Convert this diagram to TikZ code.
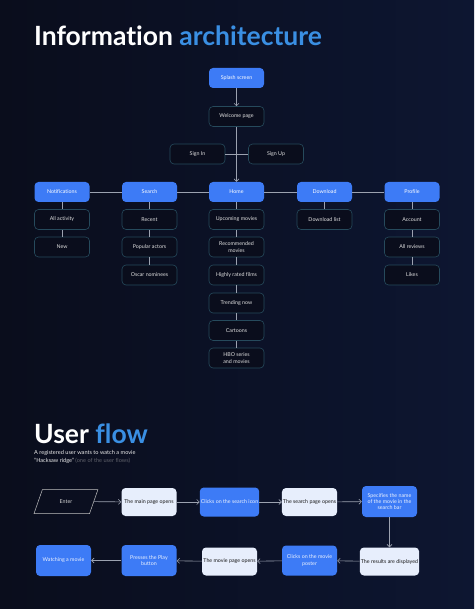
\documentclass[tikz,border=0pt]{standalone}
\usepackage{fontspec}
\setmainfont{Lato}[Ligatures={NoCommon}]
\usetikzlibrary{arrows.meta,positioning,shapes.geometric}
\definecolor{bgdark}{HTML}{0A0D1C}
\definecolor{bgblue}{HTML}{0D1631}
\definecolor{boxblue}{HTML}{3D7BF6}
\definecolor{titleblue}{HTML}{3A8FE3}
\definecolor{boxline}{HTML}{264A5C}
\definecolor{boxlight}{HTML}{E7EEFC}
\definecolor{wire}{HTML}{9CA2B0}
\tikzset{
  % blue page box (main sections)
  pagebox/.style={fill=boxblue, rounded corners=4pt, minimum width=55pt,
                  minimum height=20pt, font=\fontsize{5.3}{6.3}\selectfont,
                  text=white, align=center, inner sep=1pt},
  % outlined sub page box
  subbox/.style={draw=boxline, line width=0.6pt, fill=bgdark, rounded corners=4pt,
                 minimum width=55pt, minimum height=20pt,
                 font=\fontsize{5.3}{6.3}\selectfont, text=white!88!black,
                 align=center, inner sep=1pt},
  % user flow steps
  stepblue/.style={pagebox, minimum height=29pt, text=white!90!boxblue},
  steplight/.style={pagebox, fill=boxlight, text=black!90, minimum height=28pt},
  stepin/.style={draw=white!75!black, line width=0.5pt, trapezium,
                 trapezium left angle=72, trapezium right angle=108,
                 trapezium stretches=true, minimum width=64pt, minimum height=24pt,
                 font=\fontsize{5.3}{6.3}\selectfont, text=white!85!black},
  % connectors
  link/.style={draw=wire, line width=0.6pt},
  arr/.style={link, -{Straight Barb[length=2.5pt,width=5pt]}},
  headline/.style={font=\fontsize{26.5}{30}\selectfont\bfseries, text=white, anchor=base west, inner sep=0pt},
}

\begin{document}
\begin{tikzpicture}[x=1pt,y=-1pt]

\useasboundingbox (0,0) rectangle (474,609);
\shade[left color=bgdark, right color=bgblue] (0,0) rectangle (474,609);

\node[headline] (iatitle) at (34,46) {Information \textcolor{titleblue}{architecture}};

% =================== INFORMATION ARCHITECTURE ===================
\node[pagebox] (splash) at (236.5,78) {Splash screen};
\node[subbox] (welcome) at (236.5,116.5) {Welcome page};
\node[subbox] (signin) at (197.5,154) {Sign In};
\node[subbox] (signup) at (276,154) {Sign Up};

\node[pagebox] (notif) at (62,192) {Notifications};
\node[pagebox] (search) at (149.5,192) {Search};
\node[pagebox] (home) at (236.5,192) {Home};
\node[pagebox] (download) at (324.5,192) {Download};
\node[pagebox] (profile) at (412,192) {Profile};

\node[subbox] (activity) at (62,219.5) {All activity};
\node[subbox] (new) at (62,247) {New};

\node[subbox] (recent) at (149.5,219.5) {Recent};
\node[subbox] (actors) at (149.5,247) {Popular actors};
\node[subbox] (oscar) at (149.5,275) {Oscar nominees};

\node[subbox] (upcoming) at (236.5,219.5) {Upcoming movies};
\node[subbox] (recommended) at (236.5,247) {Recommended\\movies};
\node[subbox] (rated) at (236.5,275) {Highly rated films};
\node[subbox] (trending) at (236.5,303) {Trending now};
\node[subbox] (cartoons) at (236.5,330.5) {Cartoons};
\node[subbox] (hbo) at (236.5,358) {HBO series\\and movies};

\node[subbox] (dlist) at (324.5,219.5) {Download list};

\node[subbox] (account) at (412,219.5) {Account};
\node[subbox] (reviews) at (412,247) {All reviews};
\node[subbox] (likes) at (412,275) {Likes};

\draw[arr] (splash) -- (welcome);
\draw[arr] (welcome) -- (home);
\draw[link] (signin) -- (signup);
\draw[link] (notif) -- (search) -- (home) -- (download) -- (profile);
\draw[link] (notif) -- (activity) -- (new);
\draw[link] (search) -- (recent) -- (actors) -- (oscar);
\draw[link] (home) -- (upcoming) -- (recommended) -- (rated) -- (trending) -- (cartoons) -- (hbo);
\draw[link] (download) -- (dlist);
\draw[link] (profile) -- (account) -- (reviews) -- (likes);

% =================== USER FLOW ===================
\node[headline] (uftitle) at (34,443) {User \textcolor{titleblue}{flow}};
\node[anchor=north west, inner sep=0pt, align=left, text=white!92!black,
      font=\fontsize{5.6}{8}\selectfont] (ufnote) at (34,450)
  {A registered user wants to watch a movie\\
   “Hacksaw ridge” \textcolor{white!35!bgdark}{(one of the user flows)}};

\node[stepin] (enter) at (66,501.5) {Enter};
\node[steplight] (mainpage) at (149,502) {The main page opens};
\node[stepblue] (clicksearch) at (229.5,502) {Clicks on the search icon};
\node[steplight] (searchpage) at (309.5,502) {The search page opens};
\node[stepblue, minimum height=31pt] (specify) at (389.5,501.5) {Specifies the name\\of the movie in the\\search bar};

\node[steplight] (results) at (389.5,561.5) {The results are displayed};
\node[stepblue, minimum height=30pt] (clickposter) at (309.5,560.5) {Clicks on the movie\\poster};
\node[steplight] (moviepage) at (229.5,561.5) {The movie page opens};
\node[stepblue, minimum height=31pt] (play) at (149,560.5) {Presses the Play\\button};
\node[stepblue, minimum height=31pt] (watching) at (63.5,560.5) {Watching a movie};

\draw[arr] (enter) -- (mainpage);
\draw[arr] (mainpage) -- (clicksearch);
\draw[arr] (clicksearch) -- (searchpage);
\draw[arr] (searchpage) -- (specify);
\draw[arr] (specify) -- (results);
\draw[arr] (results) -- (clickposter);
\draw[arr] (clickposter) -- (moviepage);
\draw[arr] (moviepage) -- (play);
\draw[arr] (play) -- (watching);

\end{tikzpicture}
\end{document}
